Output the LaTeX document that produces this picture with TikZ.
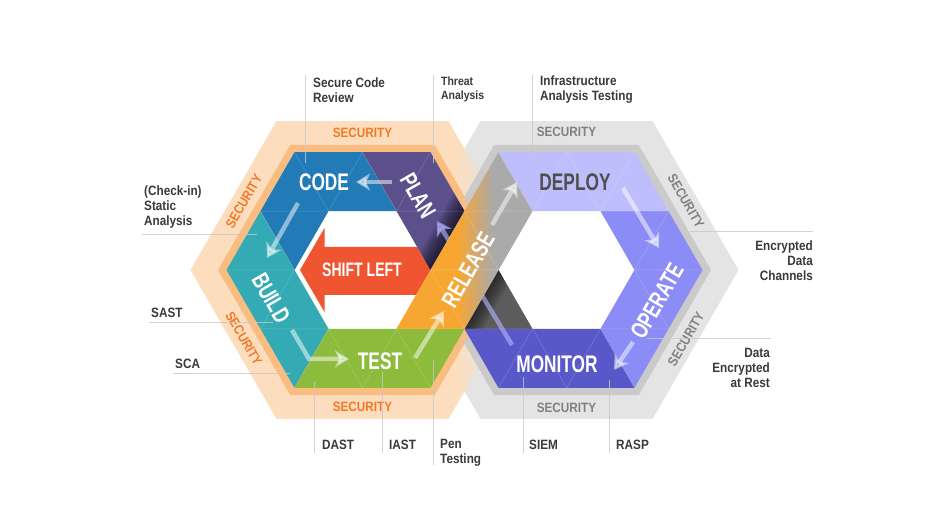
\documentclass[tikz,border=0pt]{standalone}
\usepackage{fontspec}
\usetikzlibrary{calc}
\usetikzlibrary{arrows.meta}

\newfontfamily\stagefont[FakeStretch=0.72]{Liberation Sans}
\newfontfamily\notefont[FakeStretch=0.87]{Liberation Sans}

\definecolor{secpeach}{RGB}{252,222,190}
\definecolor{bordpeach}{RGB}{249,189,130}
\definecolor{secgray}{RGB}{228,228,228}
\definecolor{bordgray}{RGB}{202,202,202}
\definecolor{secorange}{RGB}{243,121,38}
\definecolor{secdark}{RGB}{128,128,128}
\definecolor{codeblue}{RGB}{34,122,182}
\definecolor{planpurple}{RGB}{92,80,140}
\definecolor{relorange}{RGB}{248,166,50}
\definecolor{relgray}{RGB}{170,170,170}
\definecolor{testgreen}{RGB}{141,187,60}
\definecolor{buildteal}{RGB}{52,170,180}
\definecolor{shiftred}{RGB}{238,85,48}
\definecolor{deploylav}{RGB}{190,190,252}
\definecolor{operatelav}{RGB}{140,140,246}
\definecolor{monitorblue}{RGB}{88,88,200}
\definecolor{crossdark}{RGB}{92,92,92}
\definecolor{deploytext}{RGB}{78,78,78}
\definecolor{notegray}{RGB}{58,58,58}
\definecolor{linegray}{RGB}{200,200,200}

% flat-topped hexagon: centre, radius
\newcommand\hexat[2]{($(#1)+(0:#2)$) -- ($(#1)+(60:#2)$) -- ($(#1)+(120:#2)$) -- ($(#1)+(180:#2)$) -- ($(#1)+(240:#2)$) -- ($(#1)+(300:#2)$) -- cycle}

\begin{document}
\begin{tikzpicture}[x=1pt, y=1pt,
    stage/.style={font=\stagefont\bfseries\fontsize{24}{24}\selectfont, text=white, inner sep=0pt},
    secl/.style={font=\notefont\bfseries\fontsize{13.5}{14}\selectfont, text=secorange, inner sep=0pt},
    secr/.style={secl, text=secdark},
    notetext/.style={font=\notefont\bfseries\fontsize{13.5}{15}\selectfont, text=notegray, inner sep=0pt},
    callline/.style={draw=linegray, line width=0.8pt, opacity=.8},
    flow/.style={draw=white, opacity=.5, line width=4.5pt, -{Stealth[length=14pt,width=17pt,inset=4pt]}},
    trigrid/.style={draw=white, opacity=.2, line width=0.5pt}]

    \def\a{68}  % side of one small triangle

    \useasboundingbox (0,0) rectangle (931,524);
    \fill[white] (0,0) rectangle (931,524);

    \coordinate (L) at (362.5,254);
    \coordinate (R) at (566.5,254);  % (L) + (3a,0)

    % Corners of both rings
    \foreach \h in {L,R}
      \foreach \k in {0,60,...,300} {
        \coordinate (\h o\k) at ($(\h)+(\k:2*\a)$);
        \coordinate (\h i\k) at ($(\h)+(\k:\a)$);
        \coordinate (\h m\k) at ($(\h)+(\k+30:1.7320508*\a)$);
      }

    % Security band
    \fill[secpeach] \hexat{L}{172};
    \fill[secgray] \hexat{R}{172};
    \begin{scope}
      \clip \hexat{L}{172};
      \clip \hexat{R}{172};
      \fill[secpeach] (380,0) rectangle (456,524);
      \shade[left color=secpeach, right color=secgray] (456,0) rectangle (494,524);
      \fill[secgray] (494,0) rectangle (560,524);
    \end{scope}

    % Darker rim
    \fill[bordpeach] \hexat{L}{144.5};
    \fill[bordgray] \hexat{R}{144.5};
    \begin{scope}
      \clip \hexat{L}{144.5};
      \clip \hexat{R}{144.5};
      \fill[bordpeach] (380,0) rectangle (456,524);
      \shade[left color=bordpeach, right color=bordgray] (456,0) rectangle (494,524);
      \fill[bordgray] (494,0) rectangle (560,524);
    \end{scope}

    % Holes
    \fill[white] \hexat{L}{\a};
    \fill[white] \hexat{R}{\a};

    % Shift left arrow
    \begin{scope}
      \clip \hexat{L}{\a};
      \fill[shiftred] (300,254) -- (324.5,296) -- (324.5,277) -- (440,277)
        -- (440,229) -- (324.5,229) -- (324.5,212) -- cycle;
    \end{scope}

    % Ring segments
    \fill[codeblue] (Lm60) -- (Li60) -- (Li120) -- (Li180) -- (Lm120) -- (Lo120) -- cycle;
    \fill[buildteal] (Lm120) -- (Li180) -- (Li240) -- (Lo240) -- (Lo180) -- cycle;
    \fill[testgreen] (Lo240) -- (Lo300) -- (Lm300) -- (Li300) -- (Li240) -- cycle;
    \fill[planpurple] (Lm60) -- (Lo60) -- (Lo0) -- (Li0) -- (Li60) -- cycle;
    \fill[deploylav] (Ro120) -- (Ro60) -- (Rm0) -- (Ri60) -- (Ri120) -- cycle;
    \fill[operatelav] (Rm0) -- (Ro0) -- (Ro300) -- (Ri300) -- (Ri0) -- (Ri60) -- cycle;
    \fill[monitorblue] (Rm180) -- (Ri240) -- (Ri300) -- (Ro300) -- (Ro240) -- cycle;
    \fill[crossdark] (Rm180) -- (Ro180) -- (Ri180) -- (Ri240) -- cycle;

    % Shadow of the release band
    \begin{scope}
      \clip (Lm60) -- (Lo60) -- (Lo0) -- (Li0) -- (Li60) -- cycle;
      \begin{scope}[shift={(Ro180)}, rotate=60]
        \foreach \w in {2,4,...,18}
          \fill[black, opacity=.09] (-200,0) rectangle (200,\w);
      \end{scope}
    \end{scope}
    \begin{scope}
      \clip (Rm180) -- (Ro180) -- (Ri180) -- (Ri240) -- cycle;
      \begin{scope}[shift={(Rm180)}, rotate=60]
        \foreach \w in {2,4,...,16}
          \fill[black, opacity=.08] (-200,-\w) rectangle (200,0);
      \end{scope}
    \end{scope}

    % Monitor to plan runs under the release band
    \draw[flow, draw={rgb,255:red,175;green,175;blue,250}, opacity=.65]
      (512,179) coordinate (mp-a) -- (437,303) coordinate (mp-b);

    % Release band
    \begin{scope}
      \clip (Li300) -- (Lm300) -- (Ri180) -- (Ri120) -- (Ro120) -- (Ro180) -- cycle;
      \fill[relorange] (380,150) rectangle (458,380);
      \shade[left color=relorange, right color=relgray] (458,150) rectangle (494,380);
      \fill[relgray] (494,150) rectangle (560,380);
    \end{scope}

    % Triangle grid
    \foreach \h in {L,R}
      \foreach \k in {0,60,...,300} {
        \pgfmathtruncatemacro\nx{mod(\k+60,360)}
        \draw[trigrid] (\h o\k) -- (\h i\k) (\h m\k) -- (\h i\k) (\h m\k) -- (\h i\nx);
      }

    % Flow arrows
    \draw[flow] (392,342) coordinate (pc-a) -- (356,342) coordinate (pc-b);
    \draw[flow] (298,321) coordinate (cb-a) -- (267,266) coordinate (cb-b);
    \draw[flow] (292,194) coordinate (bt-a) -- (309,165) -- (349,165) coordinate (bt-b);
    \draw[flow] (415,166) coordinate (tr-a) -- (444,213) coordinate (tr-b);
    \draw[flow] (492,299) coordinate (rd-a) -- (517,342) coordinate (rd-b);
    \draw[flow] (623,336) coordinate (do-a) -- (659,276) coordinate (do-b);
    \draw[flow] (633,182) coordinate (om-a) -- (614,154) coordinate (om-b);

    % Stage names
    \node[stage] (code) at (324,342) {CODE};
    \node[stage, rotate=-60] (plan) at (418,328) {PLAN};
    \node[stage, rotate=-60] (build) at (271,226) {BUILD};
    \node[stage] (test) at (380,163) {TEST};
    \node[stage, rotate=60] (release) at (468,254) {RELEASE};
    \node[stage, text=deploytext] (deploy) at (575,342) {DEPLOY};
    \node[stage, rotate=60] (operate) at (657,223) {OPERATE};
    \node[stage] (monitor) at (557,160) {MONITOR};
    \node[stage, font=\stagefont\bfseries\fontsize{19.5}{20}\selectfont] (shift) at (362,254) {SHIFT LEFT};

    % Security words
    \foreach \ang/\rot [count=\n] in {90/0,150/60,210/-60,270/0}
      \node[secl, rotate=\rot] (secL\n) at ($(L)+(\ang:137)$) {SECURITY};
    \foreach \ang/\rot [count=\n] in {90/0,30/-60,-30/60,270/0}
      \node[secr, rotate=\rot] (secR\n) at ($(R)+(\ang:138)$) {SECURITY};

    % Call-out lines
    \draw[callline] (305,449) coordinate (scr-a) -- (305,361) coordinate (scr-b);
    \draw[callline] (433,449) coordinate (ta-a) -- (433,361) coordinate (ta-b);
    \draw[callline] (532,449) coordinate (iat-a) -- (532,364) coordinate (iat-b);
    \draw[callline] (142,290) coordinate (csa-a) -- (257,290) coordinate (csa-b);
    \draw[callline] (149,202) coordinate (sast-a) -- (273,202) coordinate (sast-b);
    \draw[callline] (173,151) coordinate (sca-a) -- (290,151) coordinate (sca-b);
    \draw[callline] (314,142) coordinate (dast-a) -- (314,71) coordinate (dast-b);
    \draw[callline] (382,152) coordinate (iast-a) -- (382,71) coordinate (iast-b);
    \draw[callline] (433,164) coordinate (pen-a) -- (433,59) coordinate (pen-b);
    \draw[callline] (523,147) coordinate (siem-a) -- (523,71) coordinate (siem-b);
    \draw[callline] (609,144) coordinate (rasp-a) -- (609,71) coordinate (rasp-b);
    \draw[callline] (690,293) coordinate (edc-a) -- (813,293) coordinate (edc-b);
    \draw[callline] (647,186) coordinate (ear-a) -- (771,186) coordinate (ear-b);

    % Call-out texts
    \node[notetext, anchor=west, align=left] (scr) at (313,434) {Secure Code\\Review};
    \node[notetext, anchor=west, align=left, font=\notefont\bfseries\fontsize{12}{14}\selectfont] (ta) at (441,435) {Threat\\Analysis};
    \node[notetext, anchor=west, align=left] (iat) at (540,434) {Infrastructure\\Analysis Testing};
    \node[notetext, anchor=west, align=left] (csa) at (144,317) {(Check-in)\\Static\\Analysis};
    \node[notetext, anchor=west] (sast) at (151,211) {SAST};
    \node[notetext, anchor=west] (sca) at (175,160) {SCA};
    \node[notetext, anchor=west] (dast) at (322,79) {DAST};
    \node[notetext, anchor=west] (iast) at (389,79) {IAST};
    \node[notetext, anchor=west, align=left] (pen) at (440,71) {Pen\\Testing};
    \node[notetext, anchor=west] (siem) at (529,79) {SIEM};
    \node[notetext, anchor=west] (rasp) at (616,79) {RASP};
    \node[notetext, anchor=east, align=right] (edc) at (813,263) {Encrypted\\Data\\Channels};
    \node[notetext, anchor=east, align=right] (ear) at (770,156) {Data\\Encrypted\\at Rest};

\end{tikzpicture}
\end{document}
